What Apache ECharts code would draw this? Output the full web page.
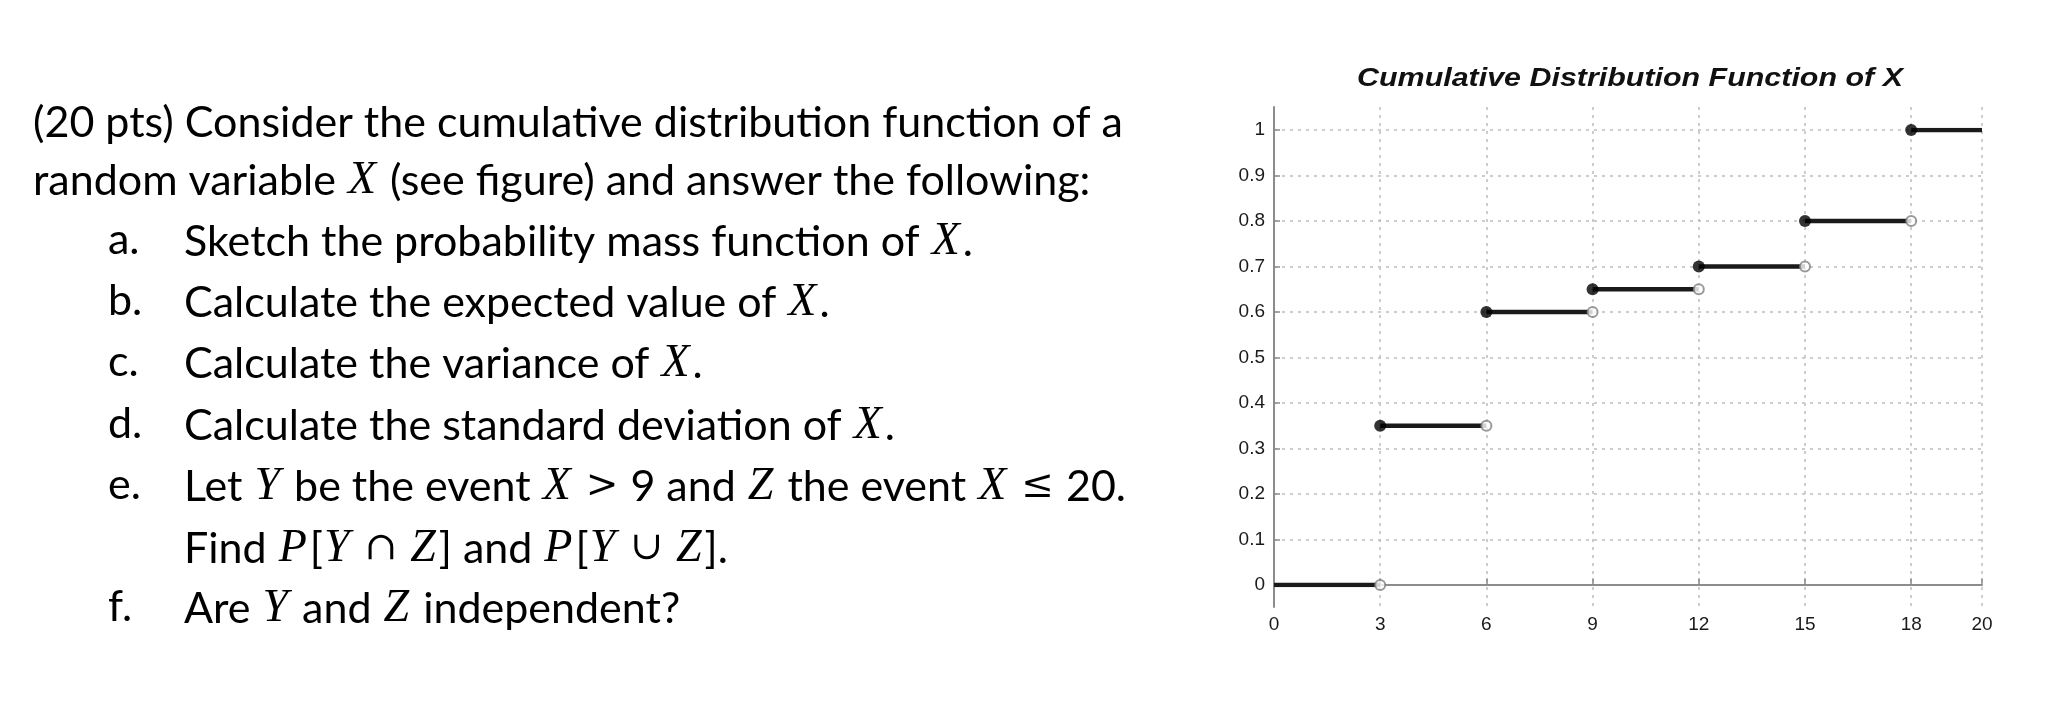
<!DOCTYPE html>
<html>
<head>
<meta charset="utf-8">
<script src="https://cdn.jsdelivr.net/npm/echarts@6/dist/echarts.min.js"></script>
<style>
html,body{margin:0;padding:0;background:#fff;}
#main{width:2046px;height:710px;}
</style>
</head>
<body>
<div id="main"></div>
<script>
// ---- data ----
const xBreaks = [0, 3, 6, 9, 12, 15, 18, 20];
const cdfValues = [0, 0.35, 0.6, 0.65, 0.7, 0.8, 1];
const xTickInterval = 3;
const yTickInterval = 0.1;
const chartTitle = 'Cumulative Distribution Function of X';
// question text: $...$ marks math italic, ~...~ marks math operator
const questionLines = [
  { label: '', text: '(20 pts) Consider the cumulative distribution function of a' },
  { label: '', text: 'random variable $X$ (see figure) and answer the following:' },
  { label: 'a.', text: 'Sketch the probability mass function of $X$.' },
  { label: 'b.', text: 'Calculate the expected value of $X$.' },
  { label: 'c.', text: 'Calculate the variance of $X$.' },
  { label: 'd.', text: 'Calculate the standard deviation of $X$.' },
  { label: 'e.', text: 'Let $Y$ be the event $X$ ~>~ 9 and $Z$ the event $X$ ~\u2264~ 20.' },
  { label: '', text: 'Find $P$[$Y$ ~\u2229~ $Z$] and $P$[$Y$ ~\u222A~ $Z$].', indent: true },
  { label: 'f.', text: 'Are $Y$ and $Z$ independent?' }
];
const lineY = [128, 184, 245, 306, 367, 429, 490, 552, 612];

// ---- build series ----
const series = [];
const filled = [];
const open = [];
for (let i = 0; i < cdfValues.length; i++) {
  const x0 = xBreaks[i], x1 = xBreaks[i + 1], v = cdfValues[i];
  series.push({
    type: 'line', xAxisIndex: 0, yAxisIndex: 0,
    data: [[x0, v], [x1, v]],
    showSymbol: false, silent: true,
    lineStyle: { color: '#1a1a1a', width: 4.5 },
    z: 3
  });
  if (i > 0) filled.push([x0, v]);
  if (i < cdfValues.length - 1) open.push([x1, v]);
}
series.push({
  type: 'scatter', xAxisIndex: 0, yAxisIndex: 0, data: filled,
  symbol: 'circle', symbolSize: 12,
  itemStyle: { color: '#000' }, z: 5
});
series.push({
  type: 'scatter', xAxisIndex: 0, yAxisIndex: 0, data: open,
  symbol: 'circle', symbolSize: 10,
  itemStyle: { color: '#fff', borderColor: '#808080', borderWidth: 2 }, z: 6
});

// ---- text graphics ----
const FS = 43;
function toRich(s) {
  let out = '';
  let mode = 't', buf = '';
  const flush = () => { if (buf) out += '{' + mode + '|' + buf + '}'; buf = ''; };
  for (const ch of s) {
    if (ch === '$') { flush(); mode = mode === 'm' ? 't' : 'm'; }
    else if (ch === '~') { flush(); mode = mode === 'o' ? 't' : 'o'; }
    else buf += ch;
  }
  flush();
  return out;
}
const common = { color: '#111', lineHeight: 52, verticalAlign: 'middle' };
const rich = {
  t: Object.assign({ fontFamily: 'Lato', fontSize: FS }, common),
  m: Object.assign({ fontFamily: 'Liberation Serif', fontStyle: 'italic', fontSize: FS + 3, padding: [0, 3, 0, 1] }, common),
  o: Object.assign({ fontFamily: 'DejaVu Serif', fontSize: FS - 4, padding: [0, 1, 0, 1] }, common)
};
const graphics = [];
questionLines.forEach((ln, i) => {
  const isItem = ln.label || ln.indent;
  if (ln.label) {
    graphics.push({
      type: 'text', left: 108, top: lineY[i] - 26, silent: true,
      style: { text: toRich(ln.label), rich: rich }
    });
  }
  graphics.push({
    type: 'text', left: isItem ? 184 : 33, top: lineY[i] - 26, silent: true,
    style: { text: toRich(ln.text), rich: rich }
  });
});
graphics.push({
  type: 'text', x: 1630, y: 79, scaleX: 1.17, silent: true,
  style: { text: chartTitle, fontFamily: 'Liberation Sans', fontStyle: 'italic', fontWeight: 'bold', fontSize: 26, fill: '#111', align: 'center', verticalAlign: 'middle' }
});

const chart = echarts.init(document.getElementById('main'));
chart.setOption({
  animation: false,
  grid: [
    { left: 1274, right: 64, top: 130, bottom: 125 },
    { left: 1274, right: 64, top: 107, bottom: 103 }
  ],
  xAxis: [
    { gridIndex: 0, type: 'value', min: 0, max: 20, interval: xTickInterval,
      axisLine: { show: false }, axisTick: { show: false }, axisLabel: { show: false }, splitLine: { show: false } },
    { gridIndex: 1, type: 'value', min: 0, max: 20, interval: xTickInterval,
      axisLine: { show: true, lineStyle: { color: '#8c8c8c', width: 2 } },
      axisTick: { show: true, inside: true, length: 6, lineStyle: { color: '#8c8c8c', width: 1.5 } },
      axisLabel: { fontFamily: 'Liberation Sans', fontSize: 19, color: '#1a1a1a', margin: 8 },
      splitLine: { show: true, lineStyle: { color: '#bdbdbd', width: 1.5, type: [3, 5] } } }
  ],
  yAxis: [
    { gridIndex: 0, type: 'value', min: 0, max: 1, interval: yTickInterval,
      axisLine: { show: false },
      axisTick: { show: true, inside: true, length: 6, lineStyle: { color: '#8c8c8c', width: 1.5 } },
      axisLabel: { fontFamily: 'Liberation Sans', fontSize: 19, color: '#1a1a1a', margin: 9 },
      splitLine: { show: true, lineStyle: { color: '#bdbdbd', width: 1.5, type: [3, 5] } } },
    { gridIndex: 1, type: 'value', min: -0.05, max: 1.05,
      axisLine: { show: true, lineStyle: { color: '#8c8c8c', width: 2 } },
      axisTick: { show: false }, axisLabel: { show: false }, splitLine: { show: false } }
  ],
  graphic: graphics,
  series: series
});
</script>
</body>
</html>
